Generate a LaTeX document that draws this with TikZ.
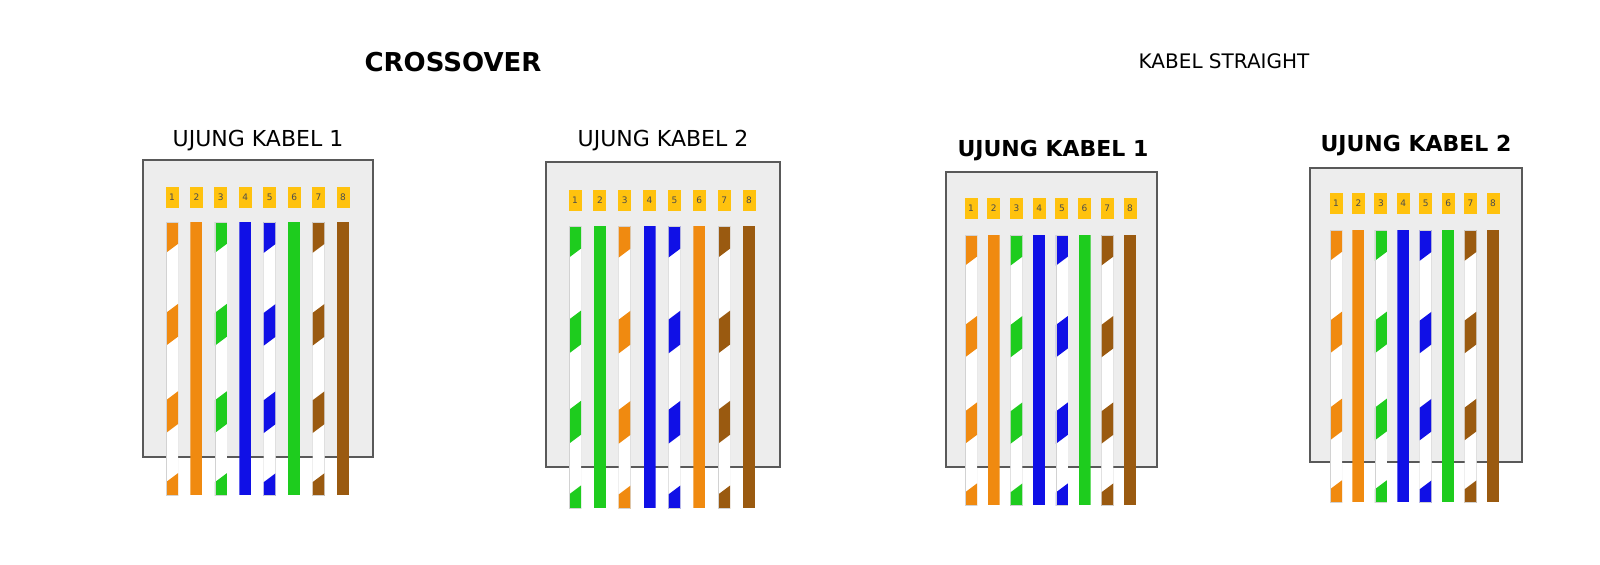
\documentclass[tikz,border=0pt]{standalone}
\usepackage{fontspec}
\setmainfont{DejaVu Sans}
\definecolor{wor}{HTML}{F08A10}
\definecolor{wgr}{HTML}{1ECC1E}
\definecolor{wbl}{HTML}{1010E6}
\definecolor{wbr}{HTML}{9A5A10}
\definecolor{pin}{HTML}{FFC20E}
\newcommand\wire[5]{%
 \begin{scope}
 \clip (#1-6,#2) rectangle (#1+6,#3);
 \ifnum#5=0
  \fill[#4] (#1-6,#2) rectangle (#1+6,#3);
 \else
  \fill[white] (#1-6,#2) rectangle (#1+6,#3);
  \pgfmathsetmacro\wL{#3-#2}
  \foreach \fa/\fb in {-0.1/0.08, 0.3/0.42, 0.62/0.74, 0.92/1.1}{
   \pgfmathsetmacro\ya{#2+\fa*\wL}\pgfmathsetmacro\yb{#2+\fb*\wL}
   \fill[#4] (#1-6,\ya+9) -- (#1+6,\ya) -- (#1+6,\yb) -- (#1-6,\yb+9) -- cycle;}
  \draw[gray!35,line width=0.3pt] (#1-6,#2) rectangle (#1+6,#3);
 \fi
 \end{scope}}
\newcommand\conn[1]{%
 \begin{scope}
 #1
 \fill[gray!14] (\bx,\by) rectangle (\bX,\bY);
 \draw[gray!70!black,line width=1.2pt] (\bX,\bY) -- (\bx,\bY) -- (\bx,\by) -- (\bX,\by) -- cycle;
 \pgfmathsetmacro\pitch{(\pl-\pf)/7}
 \foreach \c/\s [count=\i from 0] in \order {
  \pgfmathsetmacro\px{\pf+\i*\pitch}
  \node[fill=pin,minimum width=6.5pt,minimum height=10.5pt,inner sep=0pt,font=\fontsize{4.5}{4.5}\selectfont,text=black!70] (p\name\i) at (\px,\py) {\the\numexpr\i+1\relax};
  \wire{\px}{\wt}{\wb}{\c}{\s}
 }
 \end{scope}}
\def\orderB{wor/1,wor/0,wgr/1,wbl/0,wbl/1,wgr/0,wbr/1,wbr/0}
\def\orderA{wgr/1,wgr/0,wor/1,wbl/0,wbl/1,wor/0,wbr/1,wbr/0}
\begin{document}
\begin{tikzpicture}[x=0.5pt,y=-0.5pt]
\useasboundingbox (0,0) rectangle (1600,564);
\node[font=\bfseries\fontsize{13}{13}\selectfont] (t1) at (453,62) {CROSSOVER};
\node[font=\fontsize{10}{10}\selectfont] (t2) at (1224,61) {KABEL STRAIGHT};
\node[font=\fontsize{11}{11}\selectfont] (l1) at (258,141) {UJUNG KABEL 1};
\node[font=\fontsize{11}{11}\selectfont] (l2) at (663,141) {UJUNG KABEL 2};
\node[font=\bfseries\fontsize{11}{11}\selectfont] (l3) at (1053,151) {UJUNG KABEL 1};
\node[font=\bfseries\fontsize{11}{11}\selectfont] (l4) at (1416,146) {UJUNG KABEL 2};
\conn{\def\bx{143}\def\by{160}\def\bX{373}\def\bY{457}\def\pf{172}\def\pl{343}\def\py{197}\def\wt{222}\def\wb{495}\let\order\orderB\def\name{a}}
\conn{\def\bx{546}\def\by{162}\def\bX{780}\def\bY{467}\def\pf{575}\def\pl{749}\def\py{200}\def\wt{226}\def\wb{508}\let\order\orderA\def\name{b}}
\conn{\def\bx{946}\def\by{172}\def\bX{1157}\def\bY{467}\def\pf{971}\def\pl{1130}\def\py{208}\def\wt{235}\def\wb{505}\let\order\orderB\def\name{c}}
\conn{\def\bx{1310}\def\by{168}\def\bX{1522}\def\bY{462}\def\pf{1336}\def\pl{1493}\def\py{203}\def\wt{230}\def\wb{502}\let\order\orderB\def\name{d}}
\end{tikzpicture}
\end{document}
